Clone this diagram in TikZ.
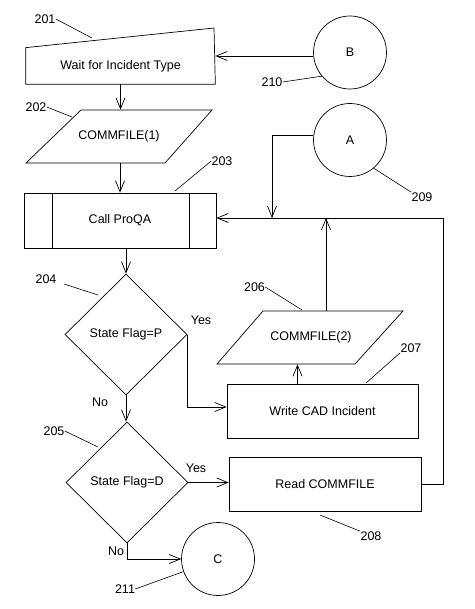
\documentclass[tikz,border=0pt]{standalone}
\usepackage{fontspec}
\setmainfont{Liberation Sans}
\usetikzlibrary{arrows.meta,shapes.geometric,calc}
\begin{document}
\begin{tikzpicture}[x=1pt,y=-1pt, line width=0.7pt,
  every node/.style={font=\fontsize{12.5}{15}\selectfont, inner sep=0pt},
  arr/.style={-{Straight Barb[length=11pt,width=9pt,line width=0.7pt]}},
  lead/.style={line width=0.6pt},
  box/.style={draw, rectangle},
  conn/.style={draw, circle, minimum size=73pt},
  dec/.style={draw, diamond, minimum width=122pt, minimum height=121pt}]
\useasboundingbox (0,0) rectangle (474,609);

% 201 manual input
\node[minimum width=189pt, minimum height=36pt] (wait) at (120.5,66) {Wait for Incident Type};
\coordinate (waitTop) at (214,28);
\draw (wait.south west) -- (wait.north west) -- (waitTop) -- (wait.south east) -- cycle;

% 202 parallelogram
\node[minimum width=139pt, minimum height=53pt] (c1) at (119,136.5) {COMMFILE(1)};
\draw (81,110) -- (212,110) -- (165,163) -- (26,163) -- cycle;

% 203 predefined process
\node[box, minimum width=192pt, minimum height=55pt] (proqa) at (120,220.5) {Call ProQA};
\draw ([xshift=29pt]proqa.north west) -- ([xshift=29pt]proqa.south west);
\draw ([xshift=-27pt]proqa.north east) -- ([xshift=-27pt]proqa.south east);

% decisions
\node[dec] (d1) at (126,334.5) {State Flag=P};
\node[dec] (d2) at (127,482.5) {State Flag=D};

% right column
\node[minimum width=140pt, minimum height=53pt] (c2) at (311,337.5) {COMMFILE(2)};
\draw (263,311) -- (403,311) -- (355,364) -- (217,364) -- cycle;
\node[box, minimum width=191pt, minimum height=54pt] (write) at (322.5,411) {Write CAD Incident};
\node[box, minimum width=192pt, minimum height=54pt] (read) at (325,484) {Read COMMFILE};

% connectors
\node[conn] (B) at (350,52.5) {B};
\node[conn] (A) at (350,140) {A};
\node[conn] (C) at (218,559) {C};

\coordinate (loop) at (443,218);
\coordinate (jA) at (272,218);

% arrows
\draw[arr] ([yshift=-3.5pt]B.west) -- ([yshift=-3.5pt]B.west -| wait.east);
\draw[arr] (wait.south) -- (wait.south |- c1.north);
\draw[arr] (c1.south -| proqa.north) -- (proqa.north);
\draw[arr] (proqa.south -| d1.north) -- (d1.north);
\draw[arr] (d1.south) -- (d1.south |- d2.north);
\draw[arr] (d1.east) |- ([yshift=4pt]write.west);
\draw[arr] ([xshift=-25pt]write.north) -- ([xshift=-25pt]write.north |- c2.south);
\draw[arr] ([xshift=15pt]c2.north) -- ([xshift=15pt]c2.north |- loop);
\draw[arr] (A.173) -| (jA);
\draw (read.east) -| (loop);
\draw[arr] (loop) -- (loop -| proqa.east);
\draw[arr] (d2.east) -- (d2.east -| read.west);
\draw[arr] (d2.south) |- (C.west);

% branch labels
\node (y1) at (201,320) {Yes};
\node (n1) at (100,402) {No};
\node (y2) at (196,468) {Yes};
\node (n2) at (116,551) {No};

% reference numerals with leaders
\node (l201) at (45,19) {201};
\draw[lead] (l201.east) -- (92,38);
\node (l210) at (272,82) {210};
\draw[lead] (l210.east) -- (B.220);
\node (l202) at (36,107) {202};
\draw[lead] (l202.east) -- (72,117);
\node (l203) at (222,161) {203};
\draw[lead] (l203.west) -- (175,191);
\node (l209) at (422,197) {209};
\draw[lead] (l209.north west) -- (A.-50);
\node (l204) at (46,279) {204};
\draw[lead] (64,284) -- (98,295);
\node (l206) at (254.5,287) {206};
\draw[lead] (l206.east) -- (302,310);
\node (l207) at (411,348) {207};
\draw[lead] (l207.south west) -- (366,383);
\node (l205) at (54,431) {205};
\draw[lead] (l205.east) -- (98,447);
\node (l208) at (371,536) {208};
\draw[lead] (l208.north west) -- (320,515);
\node (l211) at (125,589) {211};
\draw[lead] (l211.east) -- (C.200);
\end{tikzpicture}
\end{document}
